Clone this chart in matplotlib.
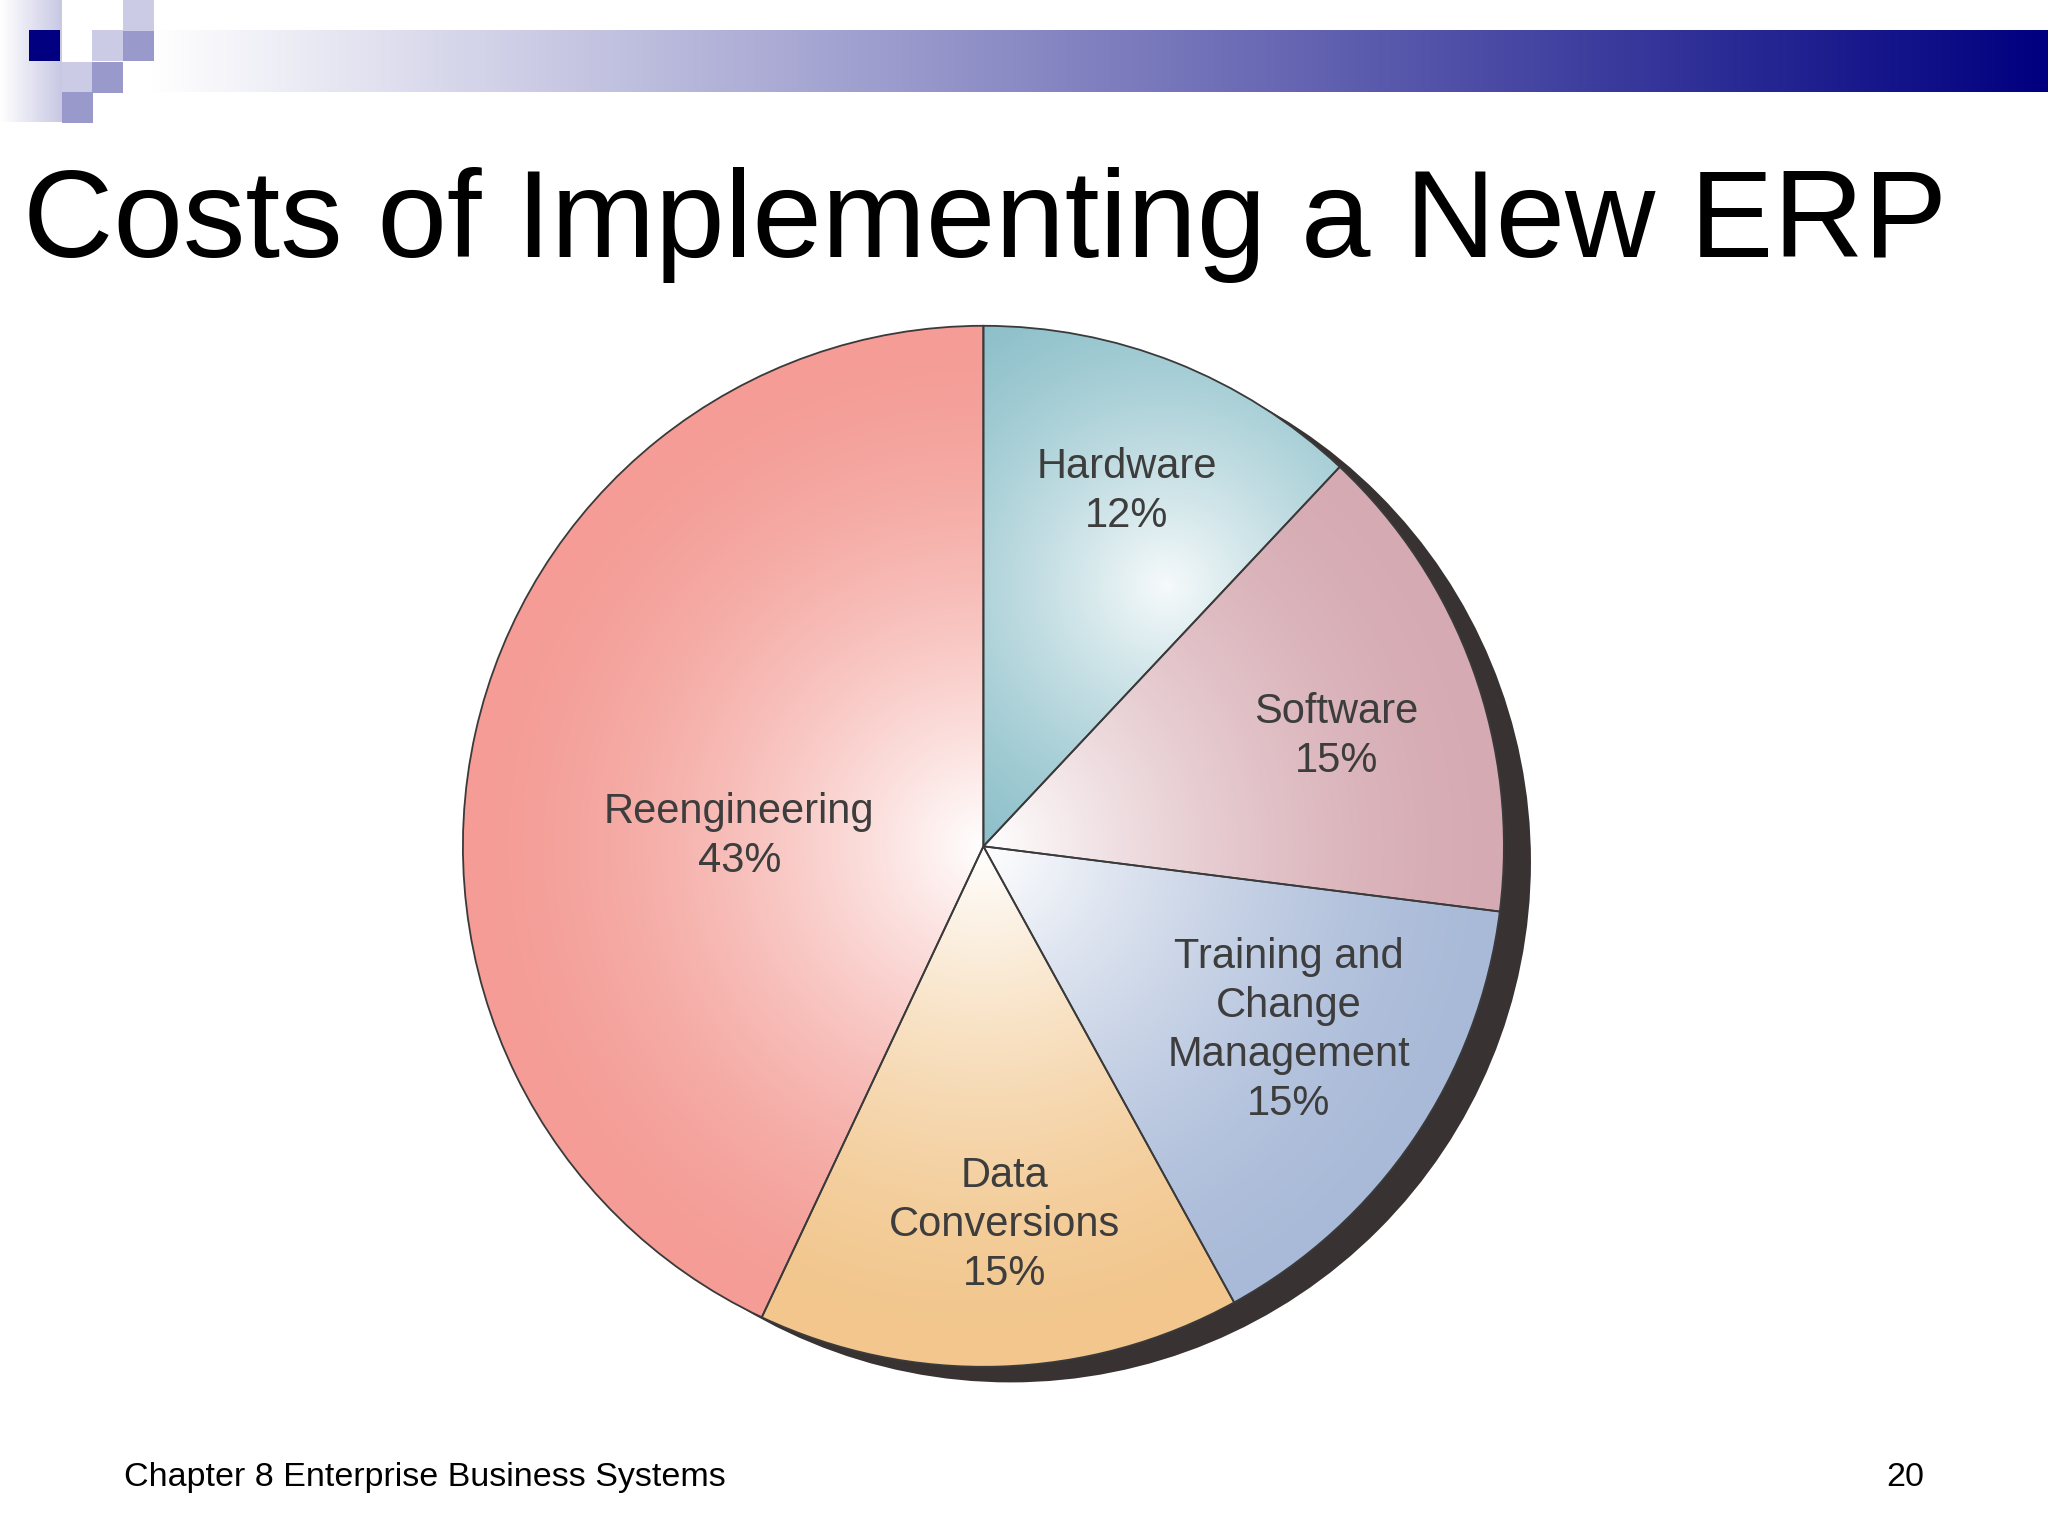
import numpy as np
import matplotlib
matplotlib.use("Agg")
import matplotlib.pyplot as plt
from matplotlib.patches import Rectangle, Circle

# ---------------- data ----------------
categories = ["Hardware", "Software", "Training and\nChange\nManagement",
              "Data\nConversions", "Reengineering"]
shares = [12, 15, 15, 15, 43]
title = "Costs of Implementing a New ERP"
footer_left = "Chapter 8 Enterprise Business Systems"
footer_right = "20"

# ---------------- styles / layout ----------------
base_colors = ["#8dc0ca", "#d6aab2", "#a9bad8", "#f2c68c", "#f49c95"]
grad_focus = [(0.35, 0.50), (0.0, 0.0), (0.0, 0.0), (0.0, 0.0), (0.0, 0.0)]
grad_radius = [0.62, 1.0, 1.0, 1.0, 1.0]
grad_power = [1.3, 1.6, 1.6, 1.6, 1.6]
label_pos = [(0.276, 0.681), (0.678, 0.211), (0.587, -0.354),
             (0.040, -0.728), (-0.469, 0.018)]

W, H = 2048, 1536
fig = plt.figure(figsize=(W / 100, H / 100), dpi=100)
fig.patch.set_facecolor("white")

# background decoration axes in pixel coordinates
bg = fig.add_axes([0, 0, 1, 1])
bg.set_xlim(0, W)
bg.set_ylim(H, 0)
bg.axis("off")

navy = np.array([0, 0, 128]) / 255
white = np.array([1.0, 1.0, 1.0])
# horizontal gradient bar
t = np.linspace(0, 1, 512)
bar = white[None, :] * (1 - t[:, None]) + navy[None, :] * t[:, None]
bg.imshow(bar[None, :, :], extent=[150, W, 92, 30], aspect="auto",
          interpolation="bilinear", zorder=1)
# left faint gradient block
lav = np.array([200, 200, 228]) / 255
t2 = np.linspace(0, 1, 64)
blk = white[None, :] * (1 - t2[:, None]) + lav[None, :] * t2[:, None]
bg.imshow(blk[None, :, :], extent=[0, 62, 122, 0], aspect="auto",
          interpolation="bilinear", zorder=1)
light_sq = "#cbcbe6"
mid_sq = "#9999cc"
squares = [(29, 30, "#000080"), (92, 30, light_sq), (123, 30, mid_sq),
           (123, 0, light_sq), (62, 62, light_sq), (92, 62, mid_sq),
           (62, 92, mid_sq)]
for x, y, c in squares:
    bg.add_patch(Rectangle((x, y), 31, 31, facecolor=c, edgecolor="none", zorder=2))

# title & footer
fig.text(23 / W, 1 - 257 / H, title, fontsize=90, family="Liberation Sans",
         color="black", ha="left", va="baseline")
fig.text(124 / W, 1 - 1486 / H, footer_left, fontsize=24.5,
         family="Liberation Sans", color="black", ha="left", va="baseline")
fig.text(1924 / W, 1 - 1486 / H, footer_right, fontsize=24.5,
         family="Liberation Sans", color="black", ha="right", va="baseline")

# ---------------- pie ----------------
cx, cy, R = 983.4, 846.3, 520.5
half = 1.25 * R
ax = fig.add_axes([(cx - half) / W, (H - cy - half) / H, 2 * half / W, 2 * half / H])
ax.patch.set_alpha(0)

# shadow
ax.add_patch(Circle((0.052, -0.03), 1.0, facecolor="#383233", edgecolor="none", zorder=0.5))

wedges, _ = ax.pie(shares, startangle=90, counterclock=False, colors=base_colors,
                   wedgeprops=dict(edgecolor="#3a3a3a", linewidth=1.3))

n = 600
xs = np.linspace(-1.05, 1.05, n)
X, Y = np.meshgrid(xs, xs)
for w, col, f, r0, p in zip(wedges, base_colors, grad_focus, grad_radius, grad_power):
    base = np.array(matplotlib.colors.to_rgb(col))
    d = np.hypot(X - f[0], Y - f[1])
    k = np.clip(1 - d / r0, 0, 1) ** p
    if r0 < 1:
        k = k * 0.92
    img = base[None, None, :] + (1 - base[None, None, :]) * k[:, :, None]
    im = ax.imshow(img, extent=[-1.05, 1.05, -1.05, 1.05], origin="lower",
                   interpolation="bilinear", zorder=2)
    im.set_clip_path(w)
    w.set_facecolor("none")
    w.set_zorder(3)

for lab, pct, (lx, ly) in zip(categories, shares, label_pos):
    ax.text(lx, ly, f"{lab}\n{pct}%", ha="center", va="center", multialignment="center",
            fontsize=30, family="Liberation Sans", color="#3d3d3d", linespacing=1.29,
            zorder=5)

ax.set_xlim(-1.25, 1.25)
ax.set_ylim(-1.25, 1.25)
ax.set_aspect("auto")
ax.axis("off")

fig.savefig("out.png", dpi=100)
